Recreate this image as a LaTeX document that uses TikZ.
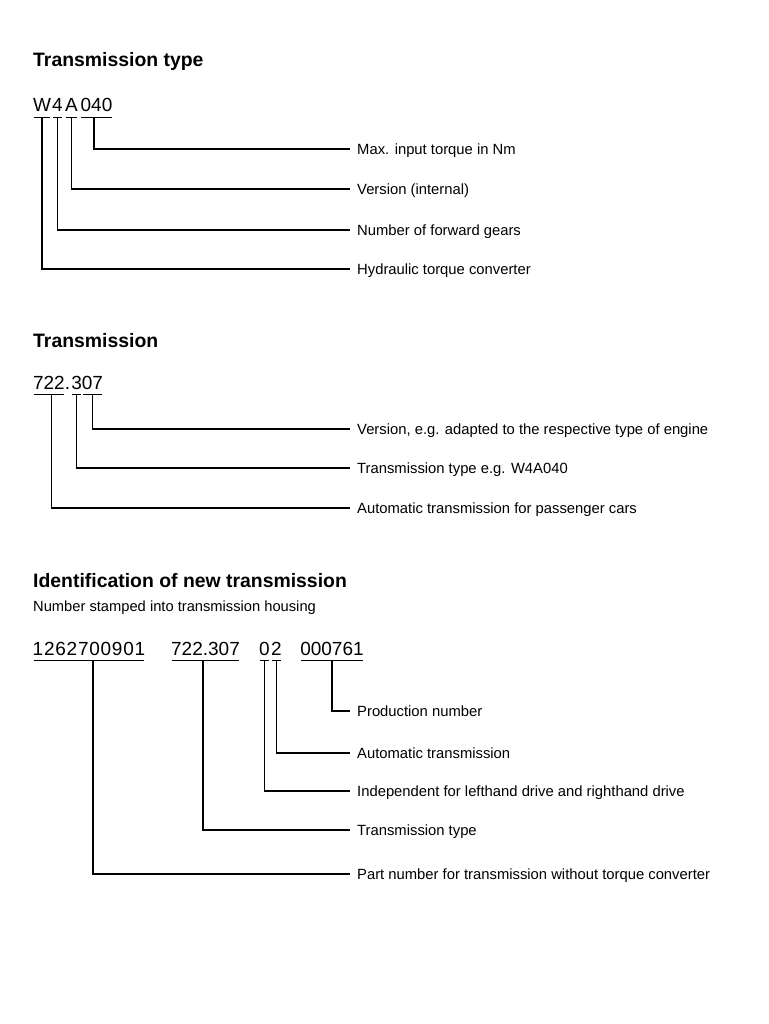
\documentclass[tikz,border=0pt]{standalone}
\usepackage{fontspec}
\setmainfont{Liberation Sans}
\usepackage{tikz}

\tikzset{
  code/.style={anchor=base, inner sep=0pt, text height=14pt, text depth=5pt,
               font=\fontsize{19}{19}\selectfont},
  wide/.style={font=\fontsize{19}{19}\selectfont\addfontfeature{LetterSpace=4}},
  lbl/.style={anchor=west, inner xsep=7pt, inner ysep=0pt, text height=10.5pt,
              text depth=0pt, font=\fontsize{14.8}{14.8}\selectfont},
  head/.style={anchor=base west, inner sep=0pt, font=\fontsize{19.4}{19.4}\selectfont\bfseries},
  sub/.style={anchor=base west, inner sep=0pt, font=\fontsize{14.7}{14.7}\selectfont},
  uline/.style={line width=1.3pt},
  lead/.style={line width=1.2pt}
}

\begin{document}
\begin{tikzpicture}[x=1pt,y=-1pt]
\useasboundingbox (0,0) rectangle (768,1024);

\node[head] (hType) at (33,67) {Transmission type};
\foreach \x/\t/\n in {42/W/tW, 57.5/4/t4, 71.5/A/tA, 96.5/040/t040}
  \node[code] (\n) at (\x,112) {\t};
\foreach \n in {tW,t4,tA,t040}
  \draw[uline] ([xshift=1pt]\n.south west) -- ([xshift=-1pt]\n.south east);
\node[lbl] (torque)    at (350,149) {Max. input torque in Nm};
\node[lbl] (internal)  at (350,189) {Version (internal)};
\node[lbl] (gears)     at (350,230) {Number of forward gears};
\node[lbl] (converter) at (350,269) {Hydraulic torque converter};
\foreach \s/\t/\d in {t040/torque/-2.5, tA/internal/0, t4/gears/0, tW/converter/0}
  \draw[lead] ([xshift=\d]\s.south) |- (\t.west);

\node[head] (hTrans) at (33,347) {Transmission};
\foreach \x/\t/\n in {51.6/722./m722, 76.6/3/m3, 92.4/07/m07}
  \node[code] (\n) at (\x,389) {\t};
\foreach \n/\r in {m722/6.3, m3/1, m07/1}
  \draw[uline] ([xshift=1pt]\n.south west) -- ([xshift=-\r pt]\n.south east);
\node[lbl] (engine)    at (350,429) {Version, e.g. adapted to the respective type of engine};
\node[lbl] (typeEg)    at (350,468) {Transmission type e.g. W4A040};
\node[lbl] (passenger) at (350,508) {Automatic transmission for passenger cars};
\foreach \s/\t in {m07/engine, m3/typeEg, m722/passenger}
  \draw[lead] (\s.south) |- (\t.west);

\node[head] (hIdent) at (33,587) {Identification of new transmission};
\node[sub] (stamped) at (33,611) {Number stamped into transmission housing};
\node[code,wide] (nPart) at (89,655) {1262700901};
\foreach \x/\t/\n in {205.5/722.307/nTrans, 264.5/0/nZero, 276.5/2/nTwo, 332/000761/nProd}
  \node[code] (\n) at (\x,655) {\t};
\foreach \n in {nPart,nTrans,nZero,nTwo,nProd}
  \draw[uline] ([xshift=1pt]\n.south west) -- ([xshift=-1pt]\n.south east);
\node[lbl] (prod)     at (350,711) {Production number};
\node[lbl] (auto)     at (350,753) {Automatic transmission};
\node[lbl] (drive)    at (350,791) {Independent for lefthand drive and righthand drive};
\node[lbl] (ttype)    at (350,830) {Transmission type};
\node[lbl] (partnum)  at (350,874) {Part number for transmission without torque converter};
\foreach \s/\t/\d in {nProd/prod/0, nTwo/auto/0, nZero/drive/0, nTrans/ttype/-2.5, nPart/partnum/4}
  \draw[lead] ([xshift=\d]\s.south) |- (\t.west);

\end{tikzpicture}
\end{document}
